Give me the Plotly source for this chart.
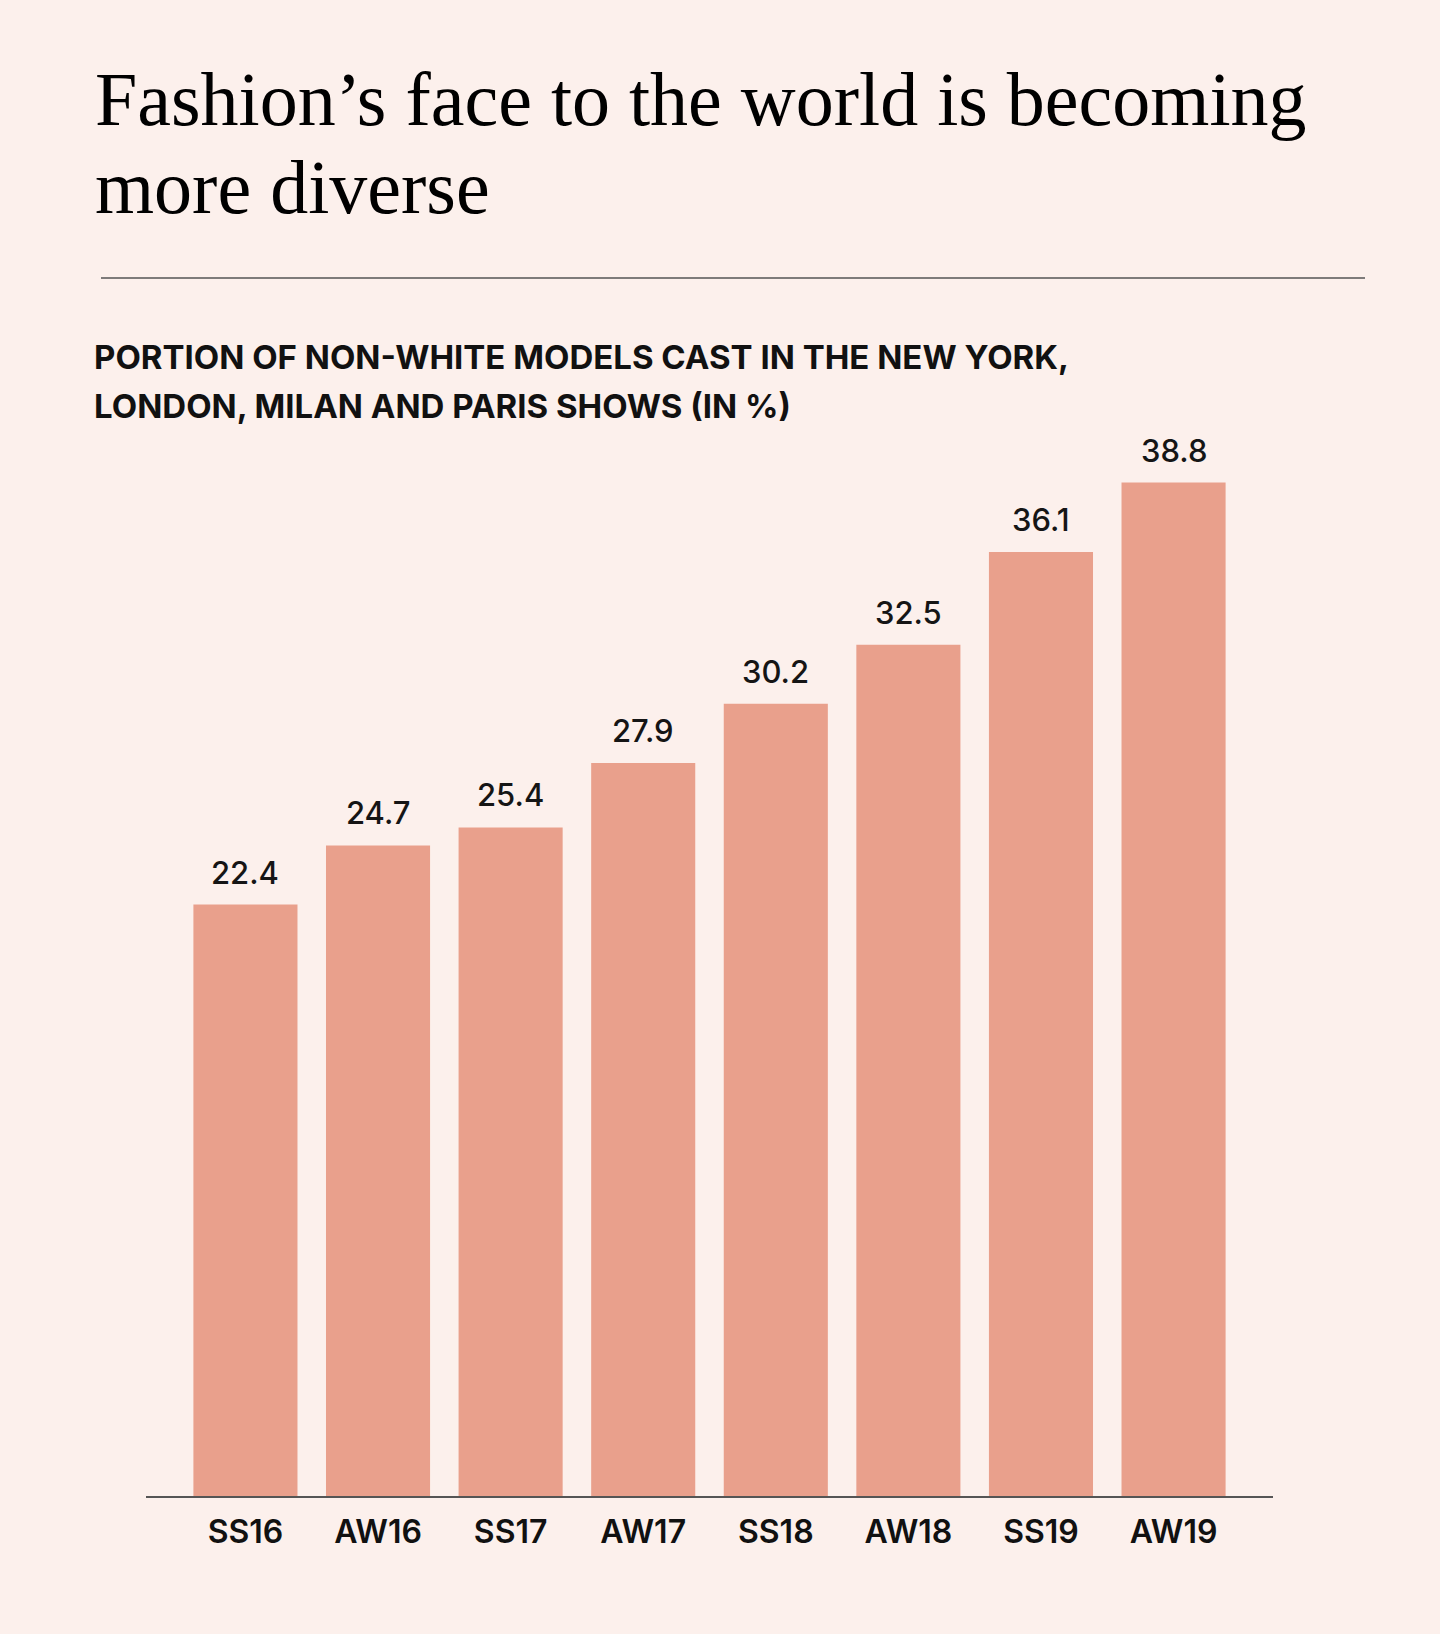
import plotly.graph_objects as go

categories = ["SS16", "AW16", "SS17", "AW17", "SS18", "AW18", "SS19", "AW19"]
values = [22.4, 24.7, 25.4, 27.9, 30.2, 32.5, 36.1, 38.8]
value_labels = ["22.4", "24.7", "25.4", "27.9", "30.2", "32.5", "36.1", "38.8"]

W, H = 1440, 1634
ML, MR, MT, MB = 146, 167, 446, 138
BG = "#FCF0EC"
BAR = "#E9A08C"
SANS = "Inter, Roboto, sans-serif"
SERIF = "Liberation Serif, Times New Roman, serif"
Y_MIN, Y_MAX = -0.58, 40.22


def px(x):
    return (x - ML) / (W - ML - MR)


def py(y):
    return (H - MB - y) / (H - MB - MT)


fig = go.Figure()
fig.add_trace(go.Bar(
    x=categories, y=[v - Y_MIN for v in values], base=Y_MIN,
    marker=dict(color=BAR, line=dict(width=0)),
    width=0.785,
    hoverinfo="skip",
))

annotations = []
for c, v, t in zip(categories, values, value_labels):
    annotations.append(dict(
        x=c, y=v, xref="x", yref="y", text=t, showarrow=False,
        yanchor="bottom", yshift=12,
        font=dict(family=SANS, size=31, color="#151515", weight=500),
    ))

annotations += [
    dict(x=px(93), y=py(99), xref="paper", yref="paper", xanchor="left", yanchor="middle",
         text="Fashion’s face to the world is becoming", showarrow=False,
         font=dict(family=SERIF, size=76, color="#000000")),
    dict(x=px(93), y=py(187), xref="paper", yref="paper", xanchor="left", yanchor="middle",
         text="more diverse", showarrow=False,
         font=dict(family=SERIF, size=76, color="#000000")),
    dict(x=px(92), y=py(357), xref="paper", yref="paper", xanchor="left", yanchor="middle",
         text="PORTION OF NON-WHITE MODELS CAST IN THE NEW YORK,", showarrow=False,
         font=dict(family=SANS, size=33, color="#111111", weight=700)),
    dict(x=px(92), y=py(406), xref="paper", yref="paper", xanchor="left", yanchor="middle",
         text="LONDON, MILAN AND PARIS SHOWS (IN %)", showarrow=False,
         font=dict(family=SANS, size=33, color="#111111", weight=700)),
]

fig.update_layout(
    width=W, height=H,
    margin=dict(l=ML, r=MR, t=MT, b=MB),
    paper_bgcolor=BG, plot_bgcolor=BG,
    showlegend=False,
    annotations=annotations,
    shapes=[dict(type="line", xref="paper", yref="paper",
                 x0=px(101), x1=px(1365), y0=py(278), y1=py(278),
                 line=dict(color="#555555", width=1.5))],
    xaxis=dict(
        range=[-0.75, 7.75], showgrid=False, zeroline=False,
        showline=True, linecolor="#555555", linewidth=1.5,
        ticks="", tickfont=dict(family=SANS, size=32, color="#111111", weight=600),
        ticklabelstandoff=7,
        fixedrange=True,
    ),
    yaxis=dict(range=[Y_MIN, Y_MAX], visible=False, fixedrange=True),
)

fig.write_html("out.html", config={"displayModeBar": False})
